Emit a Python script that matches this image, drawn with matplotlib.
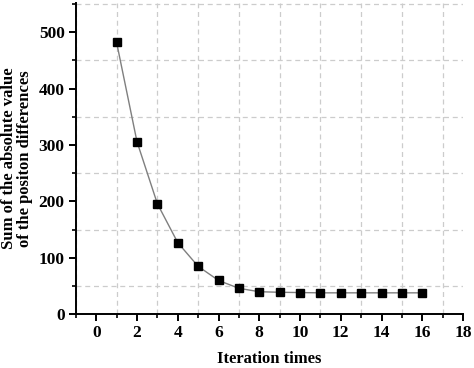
import matplotlib
matplotlib.use("Agg")
import matplotlib.pyplot as plt
from matplotlib.ticker import MultipleLocator

# values
iterations = list(range(1, 17))
abs_diff_sum = [482, 306, 196, 127, 85, 60, 46, 40, 39, 38.5, 38, 38, 38, 38, 38, 38]

plt.rcParams["font.family"] = ["Liberation Serif", "DejaVu Serif"]
plt.rcParams["font.weight"] = "bold"

fig = plt.figure(figsize=(4.74, 3.68), dpi=100)
ax = fig.add_axes([0.160, 0.146, 0.817, 0.846])

ax.plot(iterations, abs_diff_sum, color="#7f7f7f", lw=1.0, zorder=2)
ax.plot(iterations, abs_diff_sum, ls="none", marker="s", ms=5.5,
        color="black", zorder=3)

ax.set_xlim(-1, 18)
ax.set_ylim(0, 552)
ax.xaxis.set_major_locator(MultipleLocator(2))
ax.xaxis.set_minor_locator(MultipleLocator(1))
ax.yaxis.set_major_locator(MultipleLocator(100))
ax.yaxis.set_minor_locator(MultipleLocator(50))

# dashed grid sits on the minor ticks only
ax.grid(which="minor", ls=(0, (4, 3)), color="#cccccc", lw=0.9)
ax.grid(which="major", visible=False)
ax.set_axisbelow(True)

for side in ("top", "right"):
    ax.spines[side].set_visible(False)
for side in ("left", "bottom"):
    ax.spines[side].set_linewidth(1.4)

ax.tick_params(which="major", direction="out", length=5, width=1.4,
               labelsize=12.5, pad=3)
ax.tick_params(which="minor", direction="out", length=3, width=1.2)
for lab in ax.get_xticklabels() + ax.get_yticklabels():
    lab.set_fontweight("bold")

ax.set_xlabel("Iteration times", fontsize=12, fontweight="bold", labelpad=7)
ax.set_ylabel("Sum of the absolute value\nof the positon differences",
              fontsize=12, fontweight="bold", labelpad=4, linespacing=1.0)

fig.savefig("out.png", dpi=100)
